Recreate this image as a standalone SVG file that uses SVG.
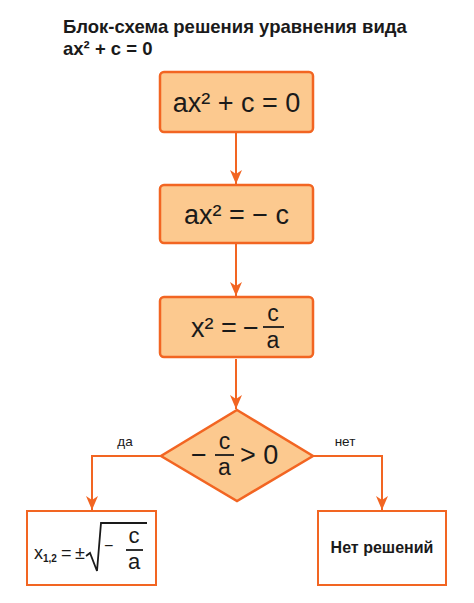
<svg xmlns="http://www.w3.org/2000/svg" width="474" height="603" viewBox="0 0 474 603">
<defs>
<style>
.title{font-family:"Liberation Sans",Arial,sans-serif;font-weight:bold;font-size:18.5px;fill:#1a1a1a}
.box{fill:#FCC98F;stroke:#F26522;stroke-width:2.5}
.wbox{fill:#fff;stroke:#F26522;stroke-width:2}
.f{font-family:"Liberation Sans",Arial,sans-serif;font-size:27px;fill:#1a1a1a}
.fr{font-family:"Liberation Sans",Arial,sans-serif;font-size:23px;fill:#1a1a1a}
.fs{font-family:"Liberation Sans",Arial,sans-serif;font-size:18px;fill:#1a1a1a}
.lbl{font-family:"Liberation Sans",Arial,sans-serif;font-size:13.5px;fill:#1a1a1a}
.bold{font-family:"Liberation Sans",Arial,sans-serif;font-weight:bold;font-size:16px;fill:#1a1a1a}
.ln{fill:none;stroke:#F26522;stroke-width:2}
.bar{stroke:#1a1a1a;stroke-width:1.8}
</style>
<marker id="arr" viewBox="0 0 14 12" refX="14" refY="6" markerWidth="14" markerHeight="12" markerUnits="userSpaceOnUse" orient="auto">
<path d="M0,0 L4,6 L0,12 L14,6 Z" fill="#F26522"/>
</marker>
</defs>
<g id="title">
<text class="title" x="63" y="33">Блок-схема решения уравнения вида</text>
<text class="title" x="63" y="55">ax² + c = 0</text>
</g>
<g id="connectors">
<line class="ln" x1="236" y1="133" x2="236" y2="184" marker-end="url(#arr)"/>
<line class="ln" x1="236" y1="244" x2="236" y2="296" marker-end="url(#arr)"/>
<line class="ln" x1="236" y1="359" x2="236" y2="409" marker-end="url(#arr)"/>
<polyline class="ln" points="161,456 92,456 92,510" marker-end="url(#arr)"/>
<polyline class="ln" points="313,456 382,456 382,510" marker-end="url(#arr)"/>
<text class="lbl" x="125" y="446" text-anchor="middle">да</text>
<text class="lbl" x="345" y="446" text-anchor="middle">нет</text>
</g>
<g id="n1">
<rect class="box" x="160" y="72" width="153" height="60" rx="4"/>
<text class="f" x="236.5" y="112" text-anchor="middle">ax² + c = 0</text>
</g>
<g id="n2">
<rect class="box" x="160" y="185" width="153" height="58" rx="4"/>
<text class="f" x="236.5" y="224" text-anchor="middle">ax² = − c</text>
</g>
<g id="n3">
<rect class="box" x="160" y="297" width="153" height="60" rx="4"/>
<text class="f" x="191" y="337">x² =</text>
<text class="f" x="243" y="337">−</text>
<text class="fr" x="273" y="321" text-anchor="middle">c</text>
<line class="bar" x1="263" y1="327" x2="284" y2="327"/>
<text class="fr" x="273" y="348" text-anchor="middle">a</text>
</g>
<g id="n4">
<polygon class="box" points="237,410 313,456 237,501 161,456"/>
<text class="f" x="191" y="464">−</text>
<text class="fr" x="224.5" y="449" text-anchor="middle">c</text>
<line class="bar" x1="215" y1="455" x2="234" y2="455"/>
<text class="fr" x="224.5" y="475" text-anchor="middle">a</text>
<text class="f" x="240" y="464">&gt; 0</text>
</g>
<g id="n5">
<rect class="wbox" x="27" y="511" width="129" height="74"/>
<text class="fs" x="34" y="559">x<tspan style="font-size:10px;font-weight:bold" dy="3">1,2</tspan></text>
<text class="fs" x="61" y="559">=</text>
<text class="fs" x="75" y="559">±</text>
<polyline points="86,556 90,553 97,571 101,523 147,523" fill="none" stroke="#1a1a1a" stroke-width="1.8"/>
<text class="fs" x="104" y="551" style="font-size:16px">−</text>
<text class="fs" x="134" y="543" text-anchor="middle" style="font-size:22px">c</text>
<line class="bar" x1="126" y1="550" x2="143" y2="550"/>
<text class="fs" x="134" y="569" text-anchor="middle" style="font-size:22px">a</text>
</g>
<g id="n6">
<rect class="wbox" x="318" y="511" width="128" height="74"/>
<text class="bold" x="382" y="553" text-anchor="middle">Нет решений</text>
</g>
</svg>
